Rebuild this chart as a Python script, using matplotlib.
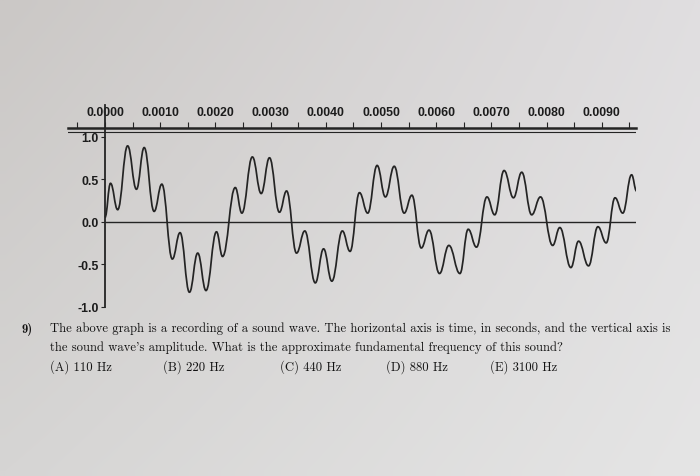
import numpy as np
import matplotlib
matplotlib.use("Agg")
import matplotlib.pyplot as plt
from matplotlib.path import Path
from matplotlib.patches import PathPatch
from matplotlib.ticker import MultipleLocator, FixedLocator, FixedFormatter

time_ms = [0.00, 0.10, 0.23, 0.41, 0.57, 0.71, 0.89, 1.03, 1.22, 1.36,
           1.53, 1.68, 1.83, 2.02, 2.13, 2.36, 2.48, 2.67, 2.83, 2.98,
           3.16, 3.29, 3.47, 3.62, 3.81, 3.96, 4.11, 4.30, 4.44, 4.61,
           4.76, 4.93, 5.08, 5.24, 5.42, 5.56, 5.73, 5.87, 6.06, 6.23,
           6.43, 6.58, 6.73, 6.92, 7.06, 7.23, 7.40, 7.55, 7.73, 7.89,
           8.11, 8.24, 8.44, 8.58, 8.76, 8.93, 9.08, 9.24, 9.38, 9.54,
           9.63]
amplitude = [0.05, 0.45, 0.14, 0.89, 0.38, 0.87, 0.12, 0.44, -0.44, -0.13,
             -0.83, -0.37, -0.81, -0.12, -0.41, 0.40, 0.10, 0.76, 0.33, 0.75,
             0.11, 0.36, -0.37, -0.11, -0.72, -0.32, -0.70, -0.11, -0.35, 0.34,
             0.10, 0.66, 0.29, 0.65, 0.10, 0.31, -0.31, -0.10, -0.61, -0.28,
             -0.61, -0.09, -0.30, 0.29, 0.08, 0.60, 0.28, 0.58, 0.08, 0.29,
             -0.28, -0.07, -0.54, -0.23, -0.52, -0.06, -0.25, 0.28, 0.10, 0.55,
             0.36]

x_major = [0.0000, 0.0010, 0.0020, 0.0030, 0.0040, 0.0050, 0.0060, 0.0070, 0.0080, 0.0090]
x_labels = ["0.0000", "0.0010", "0.0020", "0.0030", "0.0040",
            "0.0050", "0.0060", "0.0070", "0.0080", "0.0090"]
y_ticks = [1.0, 0.5, 0.0, -0.5, -1.0]
y_labels = ["1.0", "0.5", "0.0", "-0.5", "-1.0"]

question_num = "9)"
question_lines = [
    "The above graph is a recording of a sound wave. The horizontal axis is time, in seconds, and the vertical axis is",
    "the sound wave's amplitude. What is the approximate fundamental frequency of this sound?",
]
choices = ["(A) 110 Hz", "(B) 220 Hz", "(C) 440 Hz", "(D) 880 Hz", "(E) 3100 Hz"]

# ---- figure ----
W, H = 700, 477
fig = plt.figure(figsize=(7.0, 4.77), dpi=100)

# paper-like background
bg = fig.add_axes([0, 0, 1, 1], zorder=-10)
tl, tr = np.array([203, 200, 198]), np.array([224, 222, 224])
bl, br = np.array([214, 213, 212]), np.array([229, 229, 229])
u = np.linspace(0, 1, 64)[None, :, None]
v = np.linspace(0, 1, 48)[:, None, None]
grad = ((1 - v) * ((1 - u) * tl + u * tr) + v * ((1 - u) * bl + u * br)) / 255.0
bg.imshow(grad, extent=[0, 1, 0, 1], aspect="auto", interpolation="bilinear")
bg.set_axis_off()

ax_top, ax_bot = 129, 307.7
ax = fig.add_axes([68 / W, 1 - ax_bot / H, 568 / W, (ax_bot - ax_top) / H])
ax.set_facecolor("none")
ax.set_xlim(-0.00067, 0.00962)
ax.set_ylim(-1.0, 1.10)

ink = "#242424"

# smooth wave through the read extrema (horizontal tangents at extrema)
t = np.array(time_ms) * 1e-3
a = np.array(amplitude)
verts = [(t[0], a[0])]
codes = [Path.MOVETO]
for i in range(len(t) - 1):
    dx = t[i + 1] - t[i]
    verts += [(t[i] + 0.42 * dx, a[i]), (t[i + 1] - 0.42 * dx, a[i + 1]), (t[i + 1], a[i + 1])]
    codes += [Path.CURVE4] * 3
ax.add_patch(PathPatch(Path(verts, codes), fill=False, lw=1.25, edgecolor=ink))

# zero line
ax.hlines(0, 0, ax.get_xlim()[1], color=ink, lw=1.0)

# spines
for s in ["right", "bottom"]:
    ax.spines[s].set_visible(False)
ax.spines["left"].set_position(("data", 0))
ax.spines["left"].set_color(ink)
ax.spines["left"].set_linewidth(1.3)
ax.spines["top"].set_color(ink)
ax.spines["top"].set_linewidth(1.8)
ax.axvline(0, ymin=1.0, ymax=1.13, color=ink, lw=1.3, clip_on=False)
ax.axhline(1.05, color=ink, lw=0.8)

# ticks
ax.xaxis.tick_top()
ax.xaxis.set_major_locator(FixedLocator(x_major))
ax.xaxis.set_major_formatter(FixedFormatter(x_labels))
ax.xaxis.set_minor_locator(MultipleLocator(0.0005))
ax.tick_params(axis="x", which="both", direction="out", length=4, width=0.8,
               color=ink, pad=3, labelsize=8.8)
ax.set_yticks(y_ticks)
ax.set_yticklabels(y_labels)
ax.tick_params(axis="y", direction="out", length=3, width=0.8, color=ink, pad=1.5, labelsize=8.8)
for lab in ax.get_xticklabels() + ax.get_yticklabels():
    lab.set_fontweight("bold")
    lab.set_family("Liberation Sans")
    lab.set_color("#1c1c1c")

# question text
fs = 9.1
txt = "#121212"
fig.text(22 / W, 1 - 329 / H, question_num, family="cmb10", fontsize=fs, va="center", color=txt)
for k, line in enumerate(question_lines):
    fig.text(50 / W, 1 - (329 + 19 * k) / H, line, family="cmr10", fontsize=fs,
             va="center", color=txt)
choice_x = [50, 163, 280, 386, 490]
for cx, c in zip(choice_x, choices):
    fig.text(cx / W, 1 - 367 / H, c, family="cmr10", fontsize=fs, va="center", color=txt)

fig.savefig("out.png", dpi=100)
